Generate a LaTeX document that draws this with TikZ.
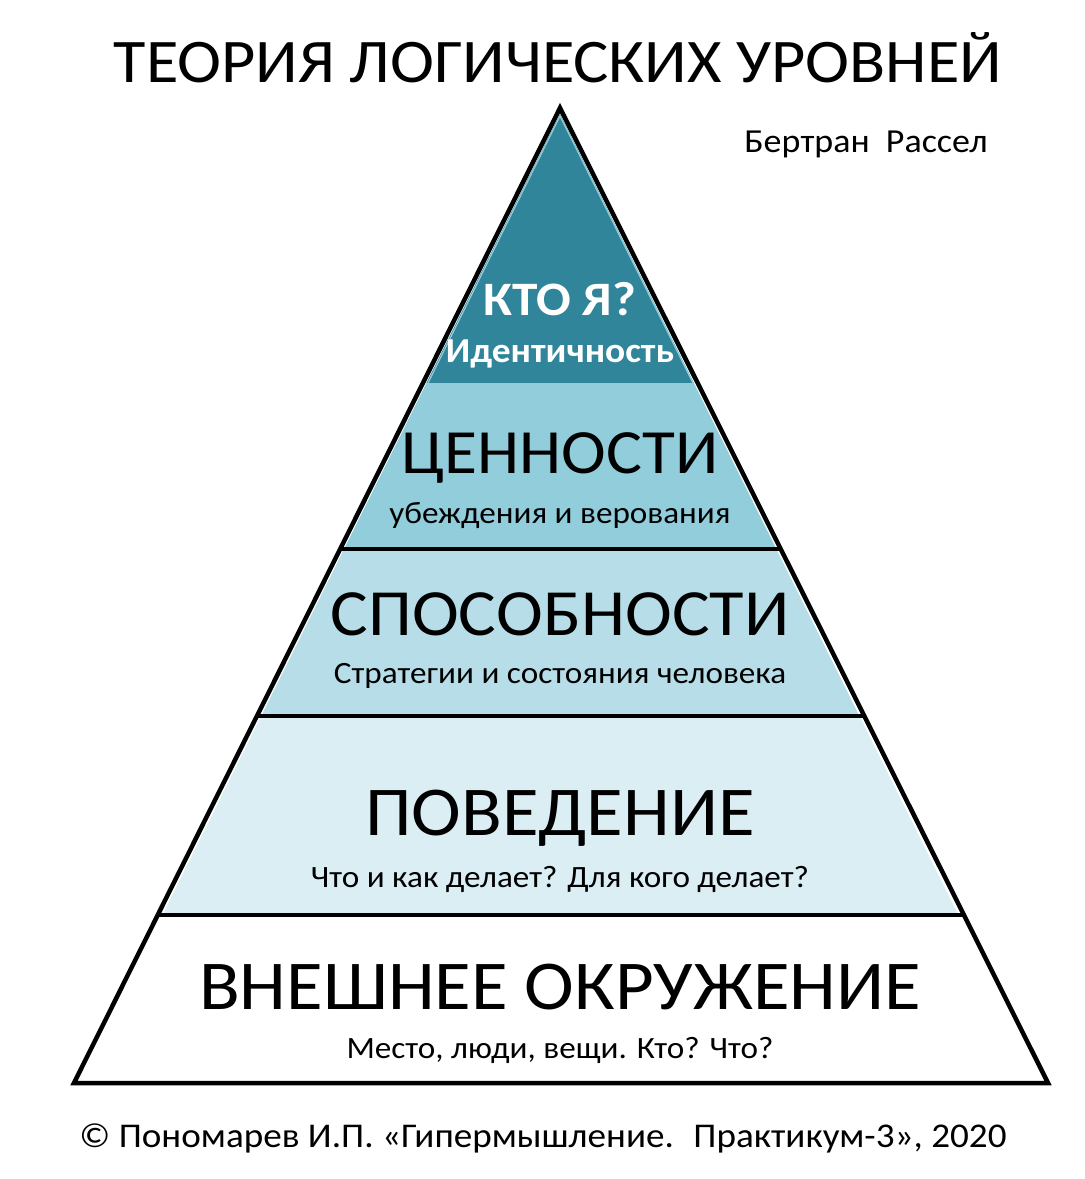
\documentclass[tikz,border=0pt]{standalone}
\usepackage{fontspec}
\setmainfont{Carlito}[FakeStretch=1.07]
\usetikzlibrary{calc}

\definecolor{tealtop}{RGB}{49,133,155}
\definecolor{aquamid}{RGB}{146,205,220}
\definecolor{aqualow}{RGB}{183,222,232}
\definecolor{aquapale}{RGB}{218,238,243}

\newcommand{\fsz}[1]{\fontsize{#1}{#1}\selectfont}

\begin{document}
\begin{tikzpicture}[x=1pt, y=-1pt,
  levelnote/.style={anchor=base, font=\fsz{31}},
  sepline/.style={line width=4.2pt}]
  \useasboundingbox (0,0) rectangle (1085,1179);

  % === Pyramid corners ===
  \coordinate (apex) at (560,108);
  \coordinate (bl) at (74,1083);
  \coordinate (br) at (1048,1083);

  % === Coloured bands, clipped to a slightly inset triangle ===
  \begin{scope}
    \clip (560,114) -- (80,1081) -- (1041,1081) -- cycle;
    \fill[tealtop]  (0,0)   rectangle (1085,383);
    \fill[aquamid]  (0,383) rectangle (1085,549);
    \fill[aqualow]  (0,549) rectangle (1085,716);
    \fill[aquapale] (0,716) rectangle (1085,915);
    \fill[white]    (0,915) rectangle (1085,1083);
  \end{scope}
  % light rim of the top triangle
  \draw[aquamid, line width=1.2pt] (428,383) -- (560,116) -- (693,383);

  % === Outline and level separators ===
  \draw[line width=4.5pt, line join=miter] (apex) -- (bl) -- (br) -- cycle;
  \foreach \f in {0.4523,0.6236,0.8277} {
    \draw[sepline] ($(apex)!\f!(bl)$) -- ($(apex)!\f!(br)$);
  }

  % === Title ===
  \node[anchor=base, font=\fsz{62}] (title) at (558,82) {ТЕОРИЯ ЛОГИЧЕСКИХ УРОВНЕЙ};
  \node[anchor=base, font=\fsz{33.6}] (author) at (866,152) {Бертран~ Рассел};

  % === Levels, top to bottom ===
  \node[anchor=base, text=white, font=\fsz{48}\bfseries] (who) at (560,315) {КТО Я?};
  \node[anchor=base, text=white, font=\fsz{35}\bfseries] (identity) at (560,362) {Идентичность};

  \node[anchor=base, font=\fsz{63}] (values) at (560,473) {ЦЕННОСТИ};
  \node[levelnote] (valuesnote) at (560,523) {убеждения и верования};

  \node[anchor=base, font=\fsz{66}] (abilities) at (560,635) {СПОСОБНОСТИ};
  \node[levelnote] (abilitiesnote) at (560,683) {Стратегии и состояния человека};

  \node[anchor=base, font=\fsz{70}] (behaviour) at (560,835) {ПОВЕДЕНИЕ};
  \node[levelnote] (behaviournote) at (560,887) {Что и как делает? Для кого делает?};

  \node[anchor=base, font=\fsz{70}] (environment) at (560,1009) {ВНЕШНЕЕ ОКРУЖЕНИЕ};
  \node[levelnote] (environmentnote) at (560,1058) {Место, люди, вещи. Кто? Что?};

  % === Footer ===
  \node[anchor=base, font=\fsz{34.7}] (credit) at (543,1147)
    {© Пономарев И.П. «Гипермышление.~ Практикум-3», 2020};
\end{tikzpicture}
\end{document}
